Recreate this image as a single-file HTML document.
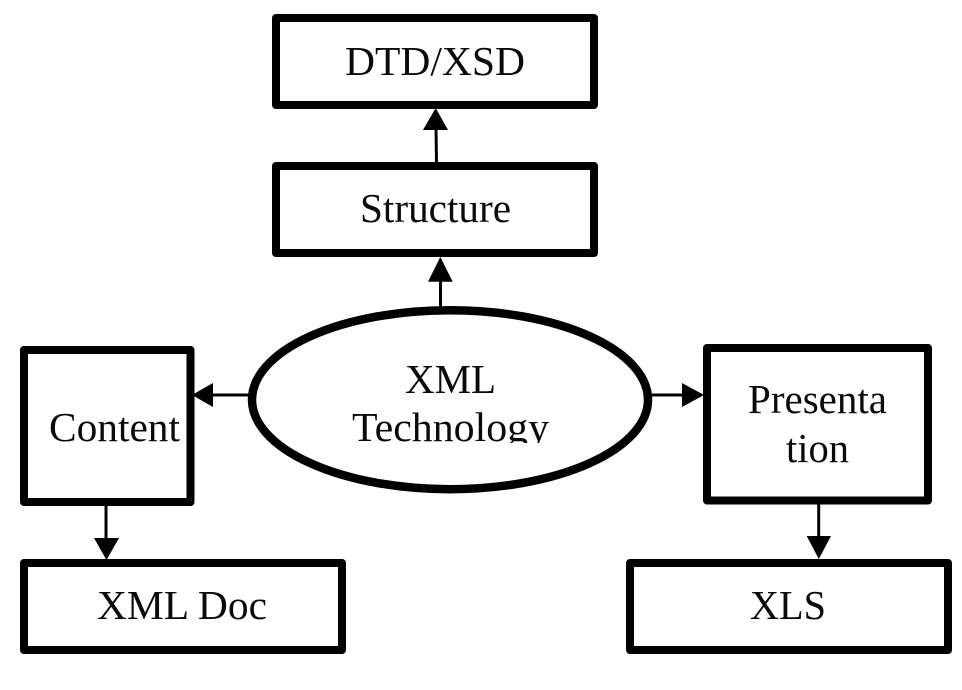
<!DOCTYPE html>
<html>
<head>
<meta charset="utf-8">
<style>
html,body{margin:0;padding:0;background:#fff;width:962px;height:690px;overflow:hidden}
svg{display:block}
text{font-family:"Liberation Serif",serif;font-size:41.5px;fill:#0a0a0a}
</style>
</head>
<body>
<svg width="962" height="690" viewBox="0 0 962 690" xmlns="http://www.w3.org/2000/svg">
<defs><clipPath id="c"><rect x="300" y="340" width="300" height="103"/></clipPath></defs>
<rect width="962" height="690" fill="#fff"/>
<g fill="none" stroke="#000" stroke-width="8" stroke-linejoin="round">
<rect x="276" y="18" width="318" height="87"/>
<rect x="276" y="166" width="318" height="87"/>
<rect x="24" y="350" width="166.500" height="152"/>
<rect x="707" y="348" width="221" height="152.500"/>
<rect x="24" y="563" width="318" height="87"/>
<rect x="630" y="563" width="318" height="87"/>
</g>
<ellipse cx="450" cy="399.700" rx="198" ry="89.500" fill="none" stroke="#000" stroke-width="8.500"/>
<g stroke="#000" stroke-width="3">
<line x1="436" y1="128" x2="436.500" y2="163"/>
<line x1="440.500" y1="280" x2="440.500" y2="309"/>
<line x1="212" y1="395" x2="250" y2="395"/>
<line x1="651" y1="395" x2="684" y2="395"/>
<line x1="106" y1="505" x2="106" y2="540"/>
<line x1="818.700" y1="504" x2="818.700" y2="538"/>
</g>
<g fill="#000">
<polygon points="435.700,108 448,130 423,130"/>
<polygon points="440.300,257 452.700,281.700 428,281.700"/>
<polygon points="192,395 213,383 213,407"/>
<polygon points="704,395 682,383 682,407"/>
<polygon points="106.500,560 119,538 94,538"/>
<polygon points="818.800,559 831,536 806.700,536"/>
</g>
<text x="345" y="75" textLength="180" lengthAdjust="spacingAndGlyphs">DTD/XSD</text>
<text x="360" y="222" textLength="151" lengthAdjust="spacingAndGlyphs">Structure</text>
<text x="405" y="393" textLength="91" lengthAdjust="spacingAndGlyphs">XML</text>
<g clip-path="url(#c)"><text x="352" y="441" textLength="197" lengthAdjust="spacingAndGlyphs">Technology</text></g>
<text x="49" y="441" textLength="131" lengthAdjust="spacingAndGlyphs">Content</text>
<text x="748" y="413" textLength="139" lengthAdjust="spacingAndGlyphs">Presenta</text>
<text x="786" y="462" textLength="63" lengthAdjust="spacingAndGlyphs">tion</text>
<text x="97" y="619" textLength="170" lengthAdjust="spacingAndGlyphs">XML Doc</text>
<text x="750" y="619" textLength="76" lengthAdjust="spacingAndGlyphs">XLS</text>
</svg>
</body>
</html>
